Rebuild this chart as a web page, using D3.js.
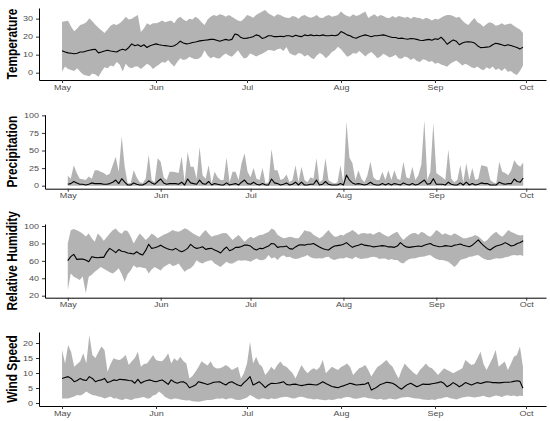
<!DOCTYPE html>
<html>
<head>
<meta charset="utf-8">
<script src="https://cdn.jsdelivr.net/npm/d3@7"></script>
<style>
  body { margin: 0; background: #fff; }
  svg { display: block; font-family: "Liberation Sans", Arial, Helvetica, sans-serif; }
</style>
</head>
<body>
<div id="chart"></div>
<script>
// daily values, 1 May .. 30 Sep
const tempMin = [
  0.6, 3.5, 2.0, 1.5, 1.0, 2.5, 0.5, -1.0, -1.5, -2.0,
  -0.5, -1.0, -2.3, 0.5, 3.0, 2.5, 4.0, 3.5, 6.0, 4.5,
  0.6, 5.0, 3.0, 2.5, 3.5, 3.5, 2.0, 3.5, 5.0, 4.0,
  2.0, 3.5, 4.5, 6.0, 5.5, 7.0, 5.0, 3.5, 6.0, 8.0,
  7.0, 7.5, 8.9, 8.0, 7.5, 7.7, 9.0, 12.5, 9.5, 8.0,
  8.9, 8.0, 7.9, 9.5, 10.7, 9.5, 8.9, 10.5, 12.5, 10.0,
  7.9, 8.5, 10.7, 10.0, 9.0, 9.8, 10.5, 11.5, 12.6, 12.5,
  12.0, 13.0, 13.4, 12.0, 14.3, 11.0, 10.0, 9.5, 11.0, 10.5,
  9.0, 10.0, 8.5, 7.5, 9.5, 11.0, 10.0, 8.0, 9.5, 11.5,
  12.5, 14.4, 13.0, 11.0, 8.8, 9.5, 11.0, 10.5, 12.0, 10.7,
  9.0, 10.5, 11.5, 10.0, 8.0, 9.0, 10.5, 9.5, 8.5, 9.0,
  10.0, 8.0, 7.7, 9.0, 8.5, 7.0, 8.0, 6.5, 6.0, 7.5,
  7.0, 6.0, 6.5, 5.0, 5.5, 4.5, 4.0, 3.3, 5.0, 6.0,
  6.8, 5.5, 4.0, 5.0, 4.1, 3.0, 2.5, 3.5, 2.0, 1.3,
  3.0, 2.0, 3.5, 1.5, 2.3, 1.0, 2.5, 0.5, 1.0, -0.5,
  -1.3, 1.0, 4.0
];
const tempMean = [
  12.2, 11.5, 11.0, 10.8, 10.5, 10.8, 11.5, 11.5, 12.0, 12.5,
  12.8, 13.0, 11.0, 11.5, 12.0, 12.5, 12.0, 11.8, 11.5, 12.5,
  13.0, 12.5, 14.0, 16.0, 15.0, 15.5, 14.5, 15.5, 14.0, 15.0,
  15.5, 16.0, 15.5, 15.2, 15.0, 14.8, 14.5, 15.0, 16.0, 17.5,
  16.5, 16.0, 16.2, 16.8, 17.0, 17.5, 17.8, 18.0, 18.2, 18.5,
  18.5, 18.0, 17.5, 18.0, 18.5, 18.0, 18.5, 21.5, 21.0, 19.5,
  19.0, 19.2, 19.5, 20.0, 21.0, 20.5, 19.0, 19.5, 20.5, 20.5,
  20.0, 20.0, 20.2, 20.0, 20.5, 20.5, 20.0, 20.8, 20.3, 20.0,
  21.0, 20.5, 21.0, 20.5, 20.8, 20.5, 21.0, 20.5, 20.5, 20.8,
  20.5, 21.0, 22.8, 22.0, 21.0, 20.5, 19.5, 19.1, 20.0, 20.5,
  21.0, 20.5, 20.0, 20.5, 20.5, 20.8, 21.0, 20.5, 20.0, 19.5,
  19.5, 19.0, 19.2, 18.8, 18.6, 19.0, 18.8, 18.5, 18.0, 17.9,
  18.2, 18.5, 18.0, 18.8, 18.5, 19.7, 18.0, 15.8, 17.0, 18.2,
  17.5, 15.5, 16.5, 17.0, 17.2, 17.0, 16.5, 15.0, 13.9, 14.0,
  14.2, 14.4, 15.5, 16.3, 16.0, 15.5, 15.0, 15.5, 15.1, 14.5,
  14.0, 13.1, 14.2
];
const tempMax = [
  28.3, 28.6, 28.8, 25.5, 23.0, 24.5, 26.5, 27.0, 28.0, 30.2,
  28.5, 26.6, 25.0, 23.5, 22.0, 24.0, 26.0, 27.0, 26.5, 27.5,
  29.0, 31.0, 29.5, 30.0, 31.0, 32.0, 22.6, 24.5, 27.5, 26.5,
  27.5, 27.5, 28.0, 29.0, 28.0, 28.5, 29.0, 27.5, 30.0, 31.0,
  29.5, 28.5, 30.0, 29.5, 31.0, 30.0, 28.0, 26.5, 29.5, 31.0,
  32.0, 31.5, 32.5, 32.0, 31.0, 32.0, 31.0, 30.0, 29.0, 28.5,
  30.0, 32.0, 31.5, 30.5, 32.0, 33.0, 34.0, 34.8, 33.0, 32.0,
  31.0, 32.5, 32.0, 31.0, 30.5, 30.3, 31.5, 31.0, 30.0, 31.5,
  32.0, 31.0, 30.5, 31.0, 32.0, 30.5, 30.3, 31.5, 32.0, 31.0,
  31.5, 32.0, 33.9, 32.5, 31.5, 31.0, 32.5, 31.5, 32.0, 33.0,
  33.9, 30.3, 31.5, 32.5, 31.0, 32.0, 31.5, 30.5, 30.3, 31.5,
  30.5, 31.5, 31.0, 30.5, 31.0, 30.0, 31.0, 30.5, 30.3, 29.5,
  30.5, 30.0, 29.0, 30.0, 29.5, 30.5, 31.5, 32.0, 32.0, 31.5,
  30.5, 31.0, 29.0, 27.5, 26.5, 28.5, 30.3, 28.0, 27.0, 25.5,
  27.0, 28.0, 27.5, 26.0, 26.5, 27.5, 26.5, 27.0, 27.3, 26.0,
  25.0, 24.0, 22.0
];

const precipMin = [
  0, 0, 0, 0, 0, 0, 0, 0, 0, 0,
  0, 0, 0, 0, 0, 0, 0, 0, 0, 0,
  0, 0, 0, 0, 0, 0, 0, 0, 0, 0,
  0, 0, 0, 0, 0, 0, 0, 0, 0, 0,
  0, 0, 0, 0, 0, 0, 0, 0, 0, 0,
  0, 0, 0, 0, 0, 0, 0, 0, 0, 0,
  0, 0, 0, 0, 0, 0, 0, 0, 0, 0,
  0, 0, 0, 0, 0, 0, 0, 0, 0, 0,
  0, 0, 0, 0, 0, 0, 0, 0, 0, 0,
  0, 0, 0, 0, 0, 0, 0, 0, 0, 0,
  0, 0, 0, 0, 0, 0, 0, 0, 0, 0,
  0, 0, 0, 0, 0, 0, 0, 0, 0, 0,
  0, 0, 0, 0, 0, 0, 0, 0, 0, 0,
  0, 0, 0, 0, 0, 0, 0, 0, 0, 0,
  0, 0, 0, 0, 0, 0, 0, 0, 0, 0,
  0, 0, 0
];
const precipMean = [
  2, 3, 6, 4, 2, 2, 1, 2, 4, 3,
  3, 3, 2, 2, 3, 5, 8, 3, 10, 5,
  1, 1, 4, 2, 1, 1, 3, 7, 4, 2,
  6, 9.5, 4, 2, 3, 3, 3, 2, 5, 1,
  9.5, 4, 3, 2, 8, 3, 2, 6, 1, 3,
  2, 1, 1, 4, 1, 2, 3, 1, 5, 8,
  3, 2, 5, 2, 1, 3, 1, 1, 9.5, 4,
  3, 1, 2, 4, 1, 2, 5, 1, 5, 1,
  1, 2, 2, 8, 1, 2, 6, 2, 1, 1,
  1, 3, 1, 15, 8, 4, 2, 3, 2, 1,
  2, 5, 2, 1, 1, 3, 1, 3, 1, 3,
  2, 1, 4, 2, 1, 3, 1, 2, 5, 8,
  2, 3, 10, 2, 2, 2, 1, 5, 2, 1,
  1, 4, 1, 5, 1, 3, 1, 2, 4, 3,
  3, 1, 1, 1, 5, 3, 2, 3, 3, 9.5,
  6, 5, 11
];
const precipMax = [
  14, 10, 29, 18, 10, 9, 8, 13, 10, 22,
  22, 20, 18, 15, 17, 29, 41, 20, 70, 27,
  3, 4, 22, 12, 5, 4, 10, 44, 8, 5,
  39, 34, 12, 8, 20, 20, 19, 18, 42, 5,
  48, 27, 27, 10, 55, 15, 10, 29, 3, 20,
  12, 8, 8, 40, 5, 20, 20, 8, 32, 46,
  20, 12, 25, 10, 8, 25, 3, 5, 52, 22,
  22, 8, 10, 16, 5, 8, 29, 5, 27, 8,
  5, 12, 10, 39, 5, 8, 39, 8, 5, 3,
  5, 29, 3, 91, 40, 32, 8, 22, 10, 5,
  15, 34, 12, 8, 8, 20, 8, 22, 8, 22,
  10, 8, 34, 12, 10, 27, 8, 15, 30, 93,
  8, 20, 89, 18, 15, 12, 8, 51, 10, 5,
  8, 29, 5, 32, 8, 25, 8, 10, 29, 28,
  27, 8, 5, 3, 34, 20, 18, 15, 22, 36,
  30, 27, 33
];

const rhMin = [
  26.5, 45.6, 41.8, 40, 38, 42, 22.7, 41.8, 44, 47.5,
  50, 53, 51, 49, 47, 45.6, 48, 51.4, 45, 36,
  45, 49, 55, 52, 53, 52, 51.4, 45.6, 50, 53,
  51, 49, 53, 55, 57, 54, 55, 57, 52, 47.5,
  50, 51.4, 55, 60.8, 58, 57, 59, 60, 60.8, 57,
  55, 53, 56, 58.9, 57, 57, 59, 60.8, 60, 60.8,
  60, 59, 61, 62.7, 61, 60.8, 62, 66.7, 62.7, 64,
  61, 64.6, 66.5, 64, 64.6, 63, 62, 62.7, 64, 65,
  66.7, 64, 63, 62.7, 63, 62.7, 64, 64.6, 62, 61,
  62, 63, 62.7, 64, 63, 62, 64.6, 63, 62, 62.7,
  63, 64, 64.6, 64, 62, 62.7, 62.7, 61, 62, 61,
  61, 58, 57, 60, 62, 62.7, 63, 64, 64.6, 65,
  66, 66.7, 64, 62, 61, 61, 60, 59, 56, 53,
  56, 61, 62, 63, 64.6, 65, 66, 66.7, 64, 62,
  61, 61, 62, 63, 62.7, 63, 64, 64.6, 66, 66.7,
  66, 66.7, 65.5
];
const rhMean = [
  60.2, 64.8, 67.5, 61.7, 62, 62, 61, 59, 64.8, 64,
  63.6, 64, 64, 70, 74.3, 72, 69.4, 73, 71, 70.5,
  69, 68.6, 67.8, 70.5, 68, 66.7, 72, 79, 74.3, 75,
  76.2, 78, 76, 74.3, 73, 72.4, 74.3, 72, 70.5, 72,
  74.3, 79, 76, 74.3, 75, 76.2, 73.2, 74, 74.3, 72.4,
  71, 69, 73, 75.9, 71.6, 73, 75.5, 75.5, 76.5, 78.2,
  78, 77, 74, 72.4, 74.3, 74, 75.5, 77, 80, 79.3,
  75.5, 76.2, 76.2, 77, 74, 73.5, 76, 78, 78.5, 78,
  79, 79, 80, 78, 76, 74.3, 73, 72.4, 75, 77,
  77.5, 78, 79, 80.9, 78, 75.5, 77, 78, 79.3, 78,
  77.5, 77, 76, 76.5, 77, 77.5, 77, 76, 76, 75.5,
  77, 80.9, 78, 76, 75.5, 76, 76.5, 77, 76.5, 78,
  79, 80, 78, 77, 76.2, 76.5, 77.5, 77, 76.5, 78,
  78.5, 79.3, 78, 77, 76.2, 78, 81, 84, 80, 77,
  74, 72.4, 75, 77, 78, 79, 80.9, 79, 77, 78,
  80, 81, 83
];
const rhMax = [
  80, 95, 96.5, 95, 93.5, 91, 88, 91.5, 86, 82,
  91.5, 88, 83, 87, 91.5, 95, 97, 93, 91, 95,
  94, 88, 80, 86, 91.5, 88, 84, 87, 91.5, 89,
  86, 88, 90, 91.5, 93, 95.4, 94, 93.5, 95, 97.3,
  96, 93.5, 91, 89, 87.7, 92, 95.4, 91, 87.7, 89,
  89.7, 91, 92, 91.6, 88, 84, 87, 89.7, 86, 82,
  85, 87.7, 86, 88, 89.7, 90, 91.6, 93, 97, 95.4,
  90, 87.7, 85.8, 86.5, 87.7, 87, 86, 85.8, 90, 95,
  94, 93.5, 90, 88, 85.8, 88, 91.6, 95.4, 91, 87.7,
  88, 90, 89, 91.6, 93, 95.4, 93, 90, 91.6, 92,
  91, 91.6, 90, 92, 93.5, 91, 89, 87.7, 90, 92,
  93.5, 88, 84, 87, 90, 91.6, 92, 90, 93.5, 92,
  89, 87.7, 91, 95.4, 93, 90, 91.6, 90, 89, 91.6,
  90, 88, 86, 85.8, 87, 88, 89.7, 88, 85, 82,
  84, 88, 91, 93.5, 90, 87.7, 91, 95.4, 93, 91.6,
  90, 89, 89.7
];

const windMin = [
  1.5, 1.5, 1.5, 1.8, 2.2, 2.7, 2.5, 3, 3.8, 3.2,
  2.7, 2.5, 2.2, 2, 1.5, 1.8, 2.2, 1.5, 1.6, 1.2,
  1, 1.5, 1.2, 1, 1.5, 1.6, 1.8, 2, 1.5, 1.6,
  2.5, 2.8, 3.8, 3, 2, 1.5, 1.2, 1.5, 1.4, 1.2,
  1, 0.8, 0.9, 0.6, 0.5, 0.4, 0.6, 0.8, 1, 1,
  1.2, 1.5, 1.4, 1.6, 1.2, 1.5, 1.6, 1.2, 1, 1.1,
  1.4, 1.8, 2.7, 2.2, 1.5, 1.2, 1.6, 1.4, 1.2, 1.6,
  1.3, 1.5, 1.8, 2, 2.1, 1.8, 1.5, 1.6, 2, 2.1,
  1.8, 1.5, 1.4, 1.2, 1.3, 1.2, 1, 0.9, 1.2, 1,
  1.2, 1.5, 1.4, 1.8, 2, 1.9, 1.5, 1.4, 1.6, 1.8,
  1.9, 1.6, 1.5, 1.3, 1.2, 1.4, 1.1, 1.2, 1.5, 1.3,
  1.2, 1.5, 1.8, 1.9, 2, 1.8, 1.6, 1.5, 1.4, 1.2,
  1.1, 1, 1.2, 1, 1.4, 1.5, 1.8, 2, 1.6, 1.4,
  1.2, 1.5, 1.8, 2, 2.2, 2, 1.8, 2, 2.2, 2.4,
  2, 1.8, 2.2, 2.5, 2.3, 2, 2.4, 2.6, 2.3, 2.5,
  2.2, 2.4, 2.3
];
const windMean = [
  8.2, 8.5, 8.8, 8.2, 7.1, 7.5, 8.2, 7.7, 7.5, 8.8,
  8.2, 7.1, 7.5, 7.7, 8.2, 6.8, 7.2, 7.7, 7.5, 7.9,
  7.8, 7.7, 7.5, 7.4, 6.6, 7.9, 6.6, 7.2, 7.5, 7.7,
  7.3, 7.1, 7.4, 7.7, 7, 6.2, 7.7, 7, 6.6, 7,
  7.1, 6.5, 5.1, 5.5, 6, 7.1, 6.8, 6.5, 6.2, 6.5,
  6.9, 7, 7.1, 6.5, 6, 6.8, 7.1, 6.5, 6, 5.7,
  6.8, 7.7, 8.8, 6, 6.5, 7.1, 6.2, 5.1, 6, 6.6,
  6.5, 6.6, 6.8, 7.1, 6.2, 6, 6.2, 6.3, 6, 5.8,
  6, 6.2, 6.2, 6.1, 6, 6.5, 7.1, 6.5, 6, 5.5,
  5.3, 5.1, 5.5, 5.8, 6.2, 6.6, 6.3, 6, 6.1, 6.2,
  6.3, 6.8, 4.3, 4.8, 5.4, 6.2, 6.5, 6.9, 6.8, 6.6,
  6, 5.2, 4.6, 5.5, 6.2, 6.6, 6, 5.4, 5.8, 6.3,
  6.2, 6.2, 6.4, 6.6, 6.8, 7.1, 6.5, 5.4, 6, 6.8,
  6.2, 5.4, 6, 6.8, 6.4, 6, 6.4, 6.8, 6.5, 6.8,
  7.1, 7, 6.8, 6.8, 6.7, 6.8, 6.9, 6.9, 7, 7.2,
  7.4, 7.2, 4.9
];
const windMax = [
  17.7, 13.2, 19.3, 17, 12.1, 13, 13.9, 16.6, 13.2, 22.7,
  16, 15, 17, 18.8, 17.7, 10.4, 13, 14.9, 14.5, 14.3,
  15, 16, 12.7, 13.9, 15, 17.1, 12.1, 13, 13.2, 14.5,
  16, 14.3, 14, 13.9, 15, 16.6, 13.2, 14.9, 14, 15.4,
  14, 13.2, 8.2, 9, 10.4, 12, 13.9, 13.2, 12.5, 13.9,
  12.1, 11.5, 11.6, 12, 12.7, 12, 11, 11.5, 12.1, 8.2,
  10, 13.2, 20.4, 13.2, 15.4, 13, 12.1, 9.3, 10.5, 12.1,
  11, 12.7, 13.8, 12.5, 12.1, 11, 10, 8.2, 10.5, 12.7,
  11, 9.9, 11, 11.6, 11, 12, 14.3, 9.9, 11, 12.1,
  11.5, 11, 12, 12.5, 13.2, 12, 9.3, 10.5, 11.6, 12,
  12.7, 11, 8.8, 10.5, 12, 12.7, 13.5, 14.3, 13, 12.1,
  10, 8.2, 11, 13.2, 12, 11, 10, 9.3, 11, 12,
  13.2, 12, 11.6, 10.5, 9.3, 10.5, 11.6, 11, 10.5, 9.9,
  10.5, 11, 11.6, 14.3, 13.5, 12.7, 13, 15, 17.1, 13,
  11, 13, 15, 17.7, 12.1, 13, 13.8, 11, 13, 15.4,
  16, 18.8, 12
];

const tempTicks = [0, 10, 20, 30];
const precipTicks = [0, 25, 50, 75, 100];
const rhTicks = [20, 40, 60, 80, 100];
const windTicks = [0, 5, 10, 15, 20];
const monthLabels = ["May", "Jun", "Jul", "Aug", "Sep", "Oct"];

const width = 550, height = 421,
      SQ = 0.79,          // figure was squeezed vertically, text follows
      plotRight = 546,
      dayMs = 864e5;

const firstDay = new Date(2019, 4, 1),
      dates = d3.timeDay.range(firstDay, new Date(2019, 9, 1)),
      lastDay = dates[dates.length - 1],
      pad = 0.05 * (lastDay - firstDay),
      monthDates = d3.timeMonth.range(firstDay, new Date(2019, 9, 2));

const panels = [
  {title: "Temperature", lo: tempMin, mid: tempMean, hi: tempMax, ticks: tempTicks,
   left: 39, top: 8, bottom: 80, domain: [-4.05, 35.9]},
  {title: "Precipitation", lo: precipMin, mid: precipMean, hi: precipMax, ticks: precipTicks,
   left: 45, top: 114.7, bottom: 188.7, domain: [-4.26, 100.9]},
  {title: "Relative Humidity", lo: rhMin, mid: rhMean, hi: rhMax, ticks: rhTicks,
   left: 45, top: 224, bottom: 297.7, domain: [17.7, 102.3]},
  {title: "Wind Speed", lo: windMin, mid: windMean, hi: windMax, ticks: windTicks,
   left: 39, top: 332, bottom: 406, domain: [-1, 23.67]}
];

const svg = d3.select("#chart").append("svg")
    .attr("width", width)
    .attr("height", height);

panels.forEach(function (p) {
  const rows = dates.map(function (d, i) {
    return {date: d, lo: p.lo[i], mid: p.mid[i], hi: p.hi[i]};
  });

  const x = d3.scaleTime()
      .domain([new Date(+firstDay - pad), new Date(+lastDay + pad)])
      .range([p.left, plotRight]);
  const y = d3.scaleLinear()
      .domain(p.domain)
      .range([p.bottom, p.top]);

  const g = svg.append("g");

  g.append("path")
      .datum(rows)
      .attr("fill", "#b3b3b3")
      .attr("d", d3.area()
          .x(function (d) { return x(d.date); })
          .y0(function (d) { return y(d.lo); })
          .y1(function (d) { return y(d.hi); }));

  g.append("path")
      .datum(rows)
      .attr("fill", "none")
      .attr("stroke", "#000")
      .attr("stroke-width", 1.1)
      .attr("stroke-linejoin", "round")
      .attr("d", d3.line()
          .x(function (d) { return x(d.date); })
          .y(function (d) { return y(d.mid); }));

  // y axis
  const ya = g.append("g")
      .attr("transform", "translate(" + p.left + ",0)")
      .call(d3.axisLeft(y).tickValues(p.ticks).tickSize(3).tickPadding(3).tickSizeOuter(0));
  ya.select(".domain").attr("stroke", "#000").attr("stroke-width", 1);
  ya.selectAll(".tick line").attr("stroke", "#333");
  ya.selectAll(".tick text")
      .attr("transform", "scale(1," + SQ + ")")
      .attr("fill", "#4d4d4d")
      .style("font-size", "9px")
      .style("font-family", "'Liberation Sans', Arial, sans-serif");

  // x axis
  const xa = g.append("g")
      .attr("transform", "translate(0," + p.bottom + ")")
      .call(d3.axisBottom(x).tickValues(monthDates).tickSize(3).tickPadding(3).tickSizeOuter(0)
          .tickFormat(function (d, i) { return monthLabels[i]; }));
  xa.select(".domain").attr("stroke", "#000").attr("stroke-width", 1);
  xa.selectAll(".tick line").attr("stroke", "#333");
  xa.selectAll(".tick text")
      .attr("transform", "scale(1," + SQ + ")")
      .attr("fill", "#4d4d4d")
      .style("font-size", "9px")
      .style("font-family", "'Liberation Sans', Arial, sans-serif");

  // axis title
  g.append("text")
      .attr("transform", "translate(16.5," + ((p.top + p.bottom) / 2) + ") rotate(-90) scale(" + SQ + ",1)")
      .attr("text-anchor", "middle")
      .style("font-size", "15px")
      .style("font-weight", "bold")
      .attr("fill", "#000")
      .text(p.title);
});
</script>
</body>
</html>
